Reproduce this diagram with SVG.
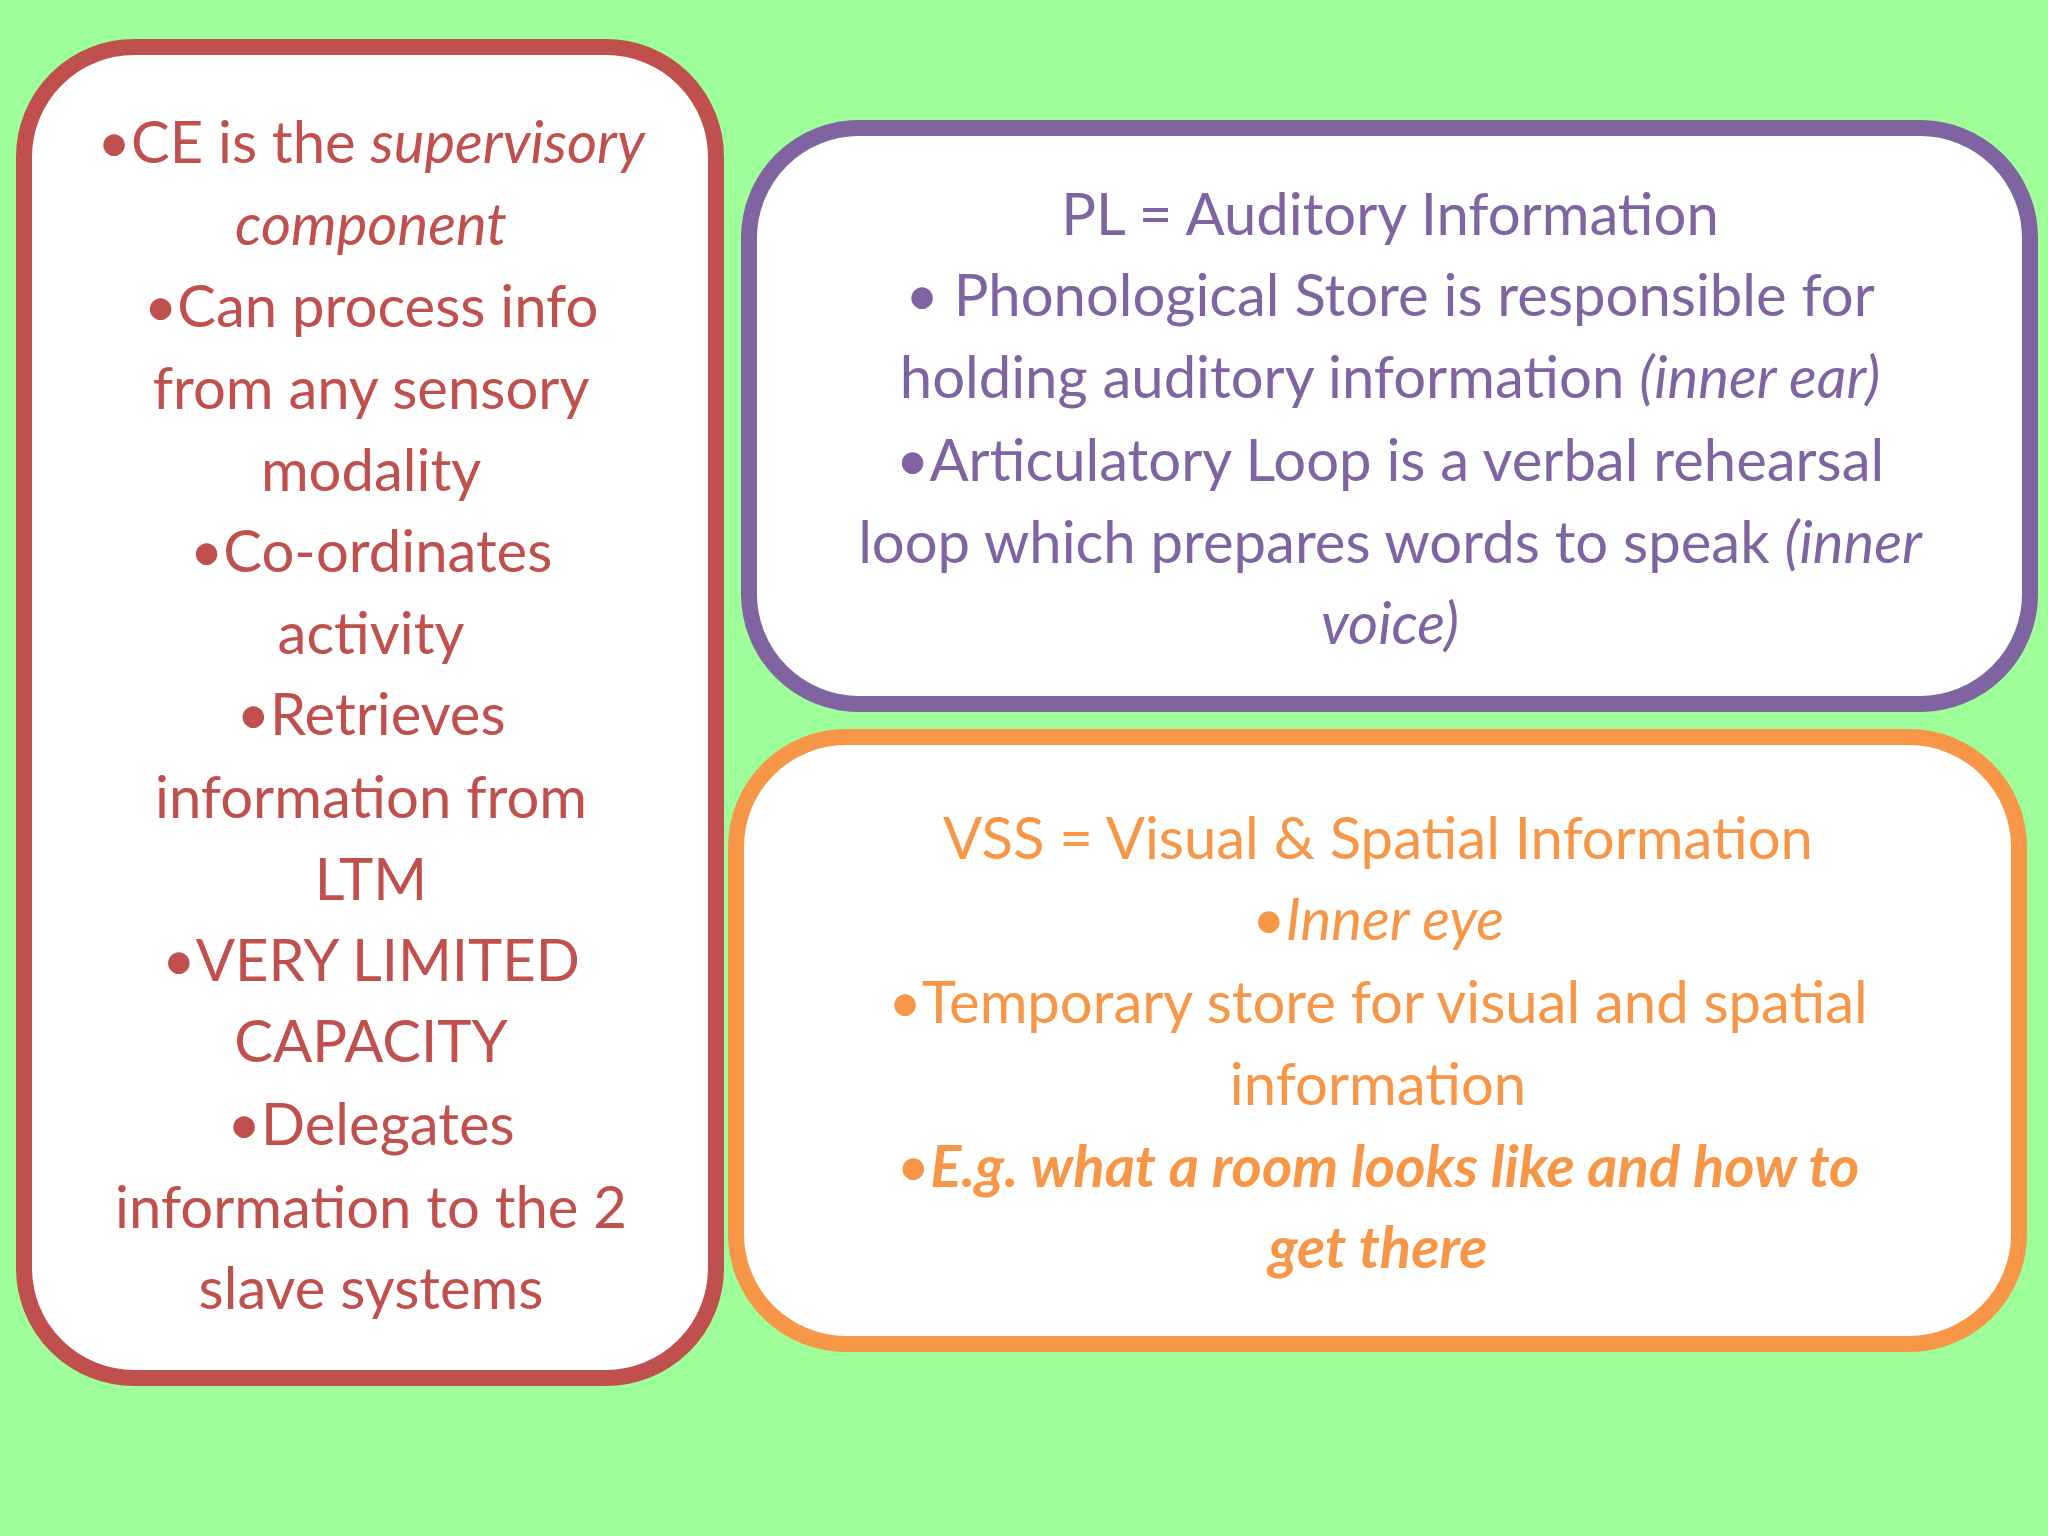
<svg xmlns="http://www.w3.org/2000/svg" width="2048" height="1536" viewBox="0 0 2048 1536">
<style>
text{font-family:Lato,"Open Sans",sans-serif;font-size:58px;text-anchor:middle}
.r{fill:#C0504D}.p{fill:#8064A2}.o{fill:#F79646}
.box{fill:#fff;stroke-width:16}
</style>
<rect width="2048" height="1536" fill="#9EFF9A"/>
<g id="ce">
<rect class="box" x="24" y="47" width="692" height="1331" rx="110" stroke="#C0504D"/>
<text class="r" x="371" y="163">•CE is the <tspan font-style="italic">supervisory</tspan></text>
<text class="r" x="371" y="245" font-style="italic">component</text>
<text class="r" x="371" y="327">•Can process info</text>
<text class="r" x="371" y="409">from any sensory</text>
<text class="r" x="371" y="491">modality</text>
<text class="r" x="371" y="572">•Co-ordinates</text>
<text class="r" x="371" y="654">activity</text>
<text class="r" x="371" y="735">•Retrieves</text>
<text class="r" x="371" y="818">information from</text>
<text class="r" x="371" y="900">LTM</text>
<text class="r" x="371" y="981">•VERY LIMITED</text>
<text class="r" x="371" y="1062">CAPACITY</text>
<text class="r" x="371" y="1145">•Delegates</text>
<text class="r" x="371" y="1228">information to the 2</text>
<text class="r" x="371" y="1309">slave systems</text>
</g>
<g id="pl">
<rect class="box" x="749" y="128" width="1281" height="576" rx="110" stroke="#8064A2"/>
<text class="p" x="1390" y="235">PL = Auditory Information</text>
<text class="p" x="1390" y="316">• Phonological Store is responsible for</text>
<text class="p" x="1390" y="398">holding auditory information <tspan font-style="italic">(inner ear)</tspan></text>
<text class="p" x="1390" y="481">•Articulatory Loop is a verbal rehearsal</text>
<text class="p" x="1390" y="563">loop which prepares words to speak <tspan font-style="italic">(inner</tspan></text>
<text class="p" x="1390" y="644" font-style="italic">voice)</text>
</g>
<g id="vss">
<rect class="box" x="736" y="737" width="1283" height="607" rx="110" stroke="#F79646"/>
<text class="o" x="1378" y="859">VSS = Visual &amp; Spatial Information</text>
<text class="o" x="1378" y="940">•<tspan font-style="italic">Inner eye</tspan></text>
<text class="o" x="1378" y="1023">•Temporary store for visual and spatial</text>
<text class="o" x="1378" y="1105">information</text>
<text class="o" x="1378" y="1187">•<tspan font-style="italic" font-weight="bold">E.g. what a room looks like and how to</tspan></text>
<text class="o" x="1378" y="1268" font-style="italic" font-weight="bold">get there</text>
</g>
<g id="connectors"/>
</svg>
